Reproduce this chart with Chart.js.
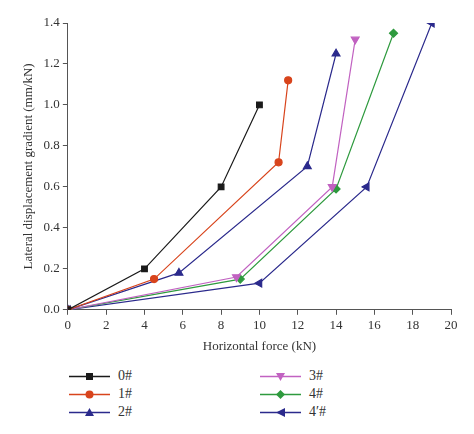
<!DOCTYPE html>
<html>
<head>
<meta charset="utf-8">
<script src="https://cdn.jsdelivr.net/npm/chart.js@4"></script>
<style>
  body { margin: 0; background: #fff; font-family: "Liberation Serif", serif; }
  #wrap { position: relative; width: 474px; height: 358px; }
  #legend { position: absolute; top: 367px; left: 0; width: 474px; font-size: 14px; color: #333; }
  .item { position: absolute; height: 18px; line-height: 18px; }
  .item svg { vertical-align: middle; margin-right: 8px; }
</style>
</head>
<body>
<div id="wrap"><canvas id="chart" width="474" height="358"></canvas></div>
<div id="legend"></div>
<script>
const labels = ["0#", "1#", "2#", "3#", "4#", "4\u2032#"];
const colors = ["#1a1a1a", "#d8441c", "#2b2a8c", "#c162c1", "#2e9a3e", "#2b2a8c"];
const markers = ["rect", "circle", "triangle", "triangleDown", "rectRot", "triangleLeft"];
const xs = [
  [0, 4, 8, 10],
  [0, 4.5, 11, 11.5],
  [0, 5.8, 12.5, 14],
  [0, 8.8, 13.8, 15],
  [0, 9, 14, 17],
  [0, 10, 15.6, 19],
];
const ys = [
  [0, 0.2, 0.6, 1.0],
  [0, 0.15, 0.72, 1.12],
  [0, 0.18, 0.7, 1.25],
  [0, 0.16, 0.6, 1.32],
  [0, 0.15, 0.59, 1.35],
  [0, 0.13, 0.6, 1.4],
];

const rotations = { triangleDown: 180, triangleLeft: 270 };
const styles = { triangleDown: "triangle", triangleLeft: "triangle" };
const radii = { rect: 4, circle: 3.5, triangle: 4.5, triangleDown: 4.5, rectRot: 4, triangleLeft: 4.5 };

const datasets = labels.map((name, i) => ({
  label: name,
  data: xs[i].map((x, j) => ({ x, y: ys[i][j] })),
  borderColor: colors[i],
  backgroundColor: colors[i],
  borderWidth: 1.2,
  pointStyle: styles[markers[i]] || markers[i],
  rotation: rotations[markers[i]] || 0,
  pointRadius: radii[markers[i]],
  showLine: true,
  tension: 0,
}));

const font = { family: "Liberation Serif", size: 13 };
const axisColor = "#555";

new Chart(document.getElementById("chart"), {
  type: "scatter",
  data: { datasets },
  options: {
    responsive: false,
    animation: false,
    layout: { padding: { top: 23, right: 23, left: 17 } },
    plugins: { legend: { display: false }, tooltip: { enabled: false } },
    scales: {
      x: {
        type: "linear", min: 0, max: 20,
        ticks: { stepSize: 2, color: "#333", font },
        grid: { drawOnChartArea: false, tickLength: 5, color: axisColor },
        border: { color: axisColor },
        title: { display: true, text: "Horizontal force (kN)", color: "#333", font, padding: { top: 2 } },
      },
      y: {
        min: 0, max: 1.4,
        ticks: { stepSize: 0.2, color: "#333", font, callback: (v) => v.toFixed(1) },
        grid: { drawOnChartArea: false, tickLength: 5, color: axisColor },
        border: { color: axisColor },
        title: { display: true, text: "Lateral displacement gradient (mm/kN)", color: "#333", font },
      },
    },
  },
});

// legend: two columns
const legend = document.getElementById("legend");
function glyph(kind, color) {
  let m = "";
  if (kind === "rect") m = `<rect x="17" y="5" width="7" height="7" fill="${color}"/>`;
  if (kind === "circle") m = `<circle cx="20.5" cy="8.5" r="4" fill="${color}"/>`;
  if (kind === "triangle") m = `<polygon points="20.5,4 25,12 16,12" fill="${color}"/>`;
  if (kind === "triangleDown") m = `<polygon points="16,5 25,5 20.5,13" fill="${color}"/>`;
  if (kind === "rectRot") m = `<polygon points="20.5,4 25,8.5 20.5,13 16,8.5" fill="${color}"/>`;
  if (kind === "triangleLeft") m = `<polygon points="16,8.5 25,4 25,13" fill="${color}"/>`;
  return `<svg width="41" height="17"><line x1="0" y1="8.5" x2="41" y2="8.5" stroke="${color}" stroke-width="1.3"/>${m}</svg>`;
}
labels.forEach((name, i) => {
  const d = document.createElement("div");
  d.className = "item";
  d.style.left = (i < 3 ? 69 : 260) + "px";
  d.style.top = (i % 3) * 18 + "px";
  d.innerHTML = glyph(markers[i], colors[i]) + name;
  legend.appendChild(d);
});
</script>
</body>
</html>
